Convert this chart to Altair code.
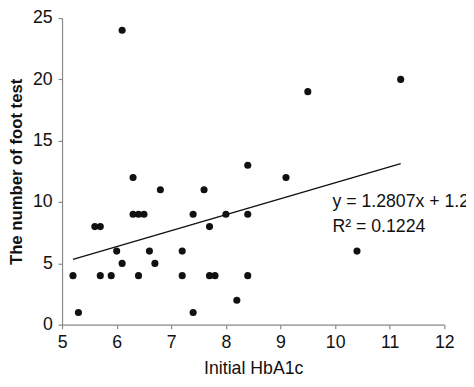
import altair as alt
import pandas as pd

# Data
hba1c = [5.2, 5.3, 5.6, 5.7, 5.7, 5.9, 6.0, 6.1, 6.3, 6.4, 6.5, 6.4, 6.6, 6.7, 6.8,
         7.2, 7.2, 7.4, 7.4, 7.6, 7.7, 7.7, 7.8, 8.0, 8.2, 8.4, 8.4, 10.4,
         6.1, 6.3, 8.4, 9.1, 9.5, 11.2]
foot_tests = [4, 1, 8, 8, 4, 4, 6, 5, 9, 9, 9, 4, 6, 5, 11,
              6, 4, 9, 1, 11, 8, 4, 4, 9, 2, 9, 4, 6,
              24, 12, 13, 12, 19, 20]

x_ticks = [5, 6, 7, 8, 9, 10, 11, 12]
y_ticks = [0, 5, 10, 15, 20, 25]

eq_lines = ["y = 1.2807x + 1.2", "R\u00b2 = 0.1224"]
eq_x = [9.95, 9.95]
eq_y = [9.62, 7.59]

FONT = "Arial, Liberation Sans, Helvetica, sans-serif"

df = pd.DataFrame({"hba1c": hba1c, "tests": foot_tests})
eq_df = pd.DataFrame({"label": eq_lines, "x": eq_x, "y": eq_y})

xscale = alt.Scale(domain=[5, 12], nice=False, zero=False)
yscale = alt.Scale(domain=[0, 25], nice=False)

xaxis = alt.Axis(values=x_ticks, format="d", title="Initial HbA1c", grid=False,
                 titleFontSize=18, titleFontWeight="normal", titleFont=FONT,
                 titleColor="#111", titleBaseline="alphabetic", titleY=50,
                 labelFontSize=18, labelFont=FONT, labelColor="#111",
                 labelPadding=5, tickSize=4, labelFlush=False)
yaxis = alt.Axis(values=y_ticks, format="d", title="The number of foot test", grid=False,
                 titleFontSize=17, titleFontWeight="bold", titleFont=FONT,
                 titleColor="#111", titleBaseline="alphabetic", titleX=-41,
                 labelFontSize=18, labelFont=FONT, labelColor="#111",
                 labelPadding=6, tickSize=4, labelFlush=False)

points = alt.Chart(df).mark_circle(size=52, color="#111", opacity=1).encode(
    x=alt.X("hba1c:Q", scale=xscale, axis=xaxis),
    y=alt.Y("tests:Q", scale=yscale, axis=yaxis),
)

trend = alt.Chart(df).transform_regression(
    "hba1c", "tests", extent=[5.2, 11.2]
).mark_line(color="#111", strokeWidth=1.5).encode(
    x=alt.X("hba1c:Q", scale=xscale),
    y=alt.Y("tests:Q", scale=yscale),
)

eq = alt.Chart(eq_df).mark_text(
    align="left", baseline="alphabetic", fontSize=18, font=FONT, color="#111"
).encode(
    x=alt.X("x:Q", scale=xscale),
    y=alt.Y("y:Q", scale=yscale),
    text="label:N",
)

chart = alt.layer(trend, points, eq).properties(
    width=389, height=312,
    autosize=alt.AutoSizeParams(type="none"),
    padding={"left": 55, "top": 7, "right": 22, "bottom": 52},
    background="white",
).configure_view(stroke=None).configure_axis(
    domainColor="#888", tickColor="#888", domainWidth=1.2, tickWidth=1.2
)

chart.save("out.html", embed_options={"renderer": "svg", "actions": False})
